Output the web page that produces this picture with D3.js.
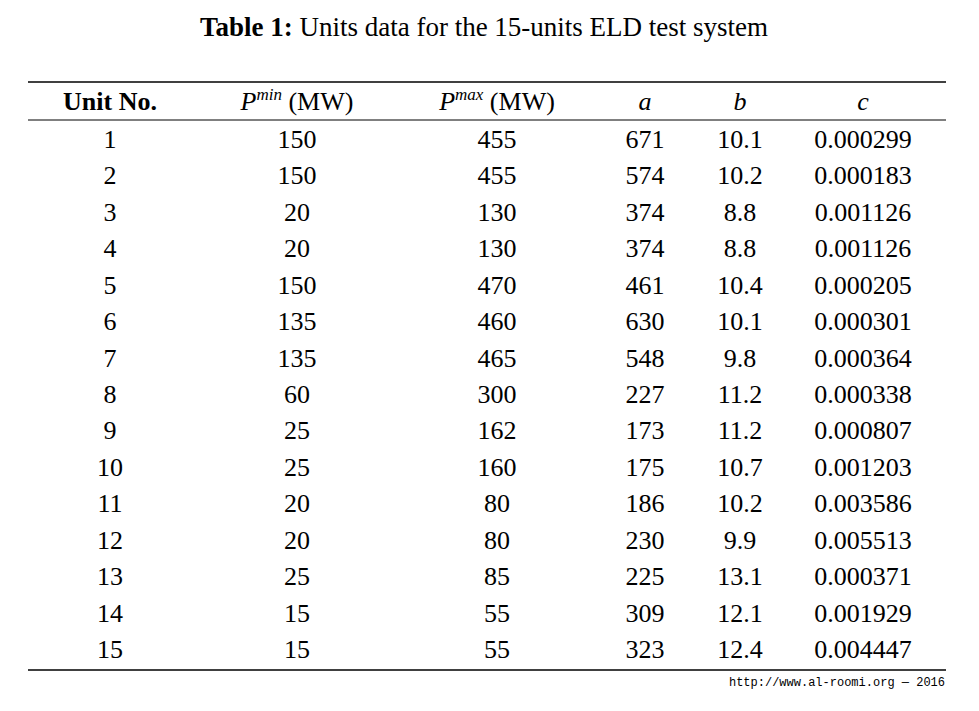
<!DOCTYPE html>
<html><head><meta charset="utf-8">
<script src="https://cdn.jsdelivr.net/npm/d3@7"></script>
<style>body{margin:0;background:#fff}</style></head>
<body><svg id="c" width="979" height="711"></svg>
<script>
const units=[1,2,3,4,5,6,7,8,9,10,11,12,13,14,15];
const pmin=[150,150,20,20,150,135,135,60,25,25,20,20,25,15,15];
const pmax=[455,455,130,130,470,460,465,300,162,160,80,80,85,55,55];
const a=[671,574,374,374,461,630,548,227,173,175,186,230,225,309,323];
const b=["10.1","10.2","8.8","8.8","10.4","10.1","9.8","11.2","11.2","10.7","10.2","9.9","13.1","12.1","12.4"];
const c=["0.000299","0.000183","0.001126","0.001126","0.000205","0.000301","0.000364","0.000338","0.000807","0.001203","0.003586","0.005513","0.000371","0.001929","0.004447"];
const columns=["unit","pmin","pmax","a","b","c"];
const colData=[units,pmin,pmax,a,b,c];

const svg=d3.select("#c");
const F="'Liberation Serif','DejaVu Serif',serif";
const x=d3.scaleOrdinal().domain(columns).range([110,297,497,645,740,863]);
const y=d3.scaleLinear().domain([0,14]).range([148,658]);

svg.append("text").attr("x",484).attr("y",36).attr("text-anchor","middle")
 .attr("font-family",F).attr("font-size",27)
 .html('<tspan font-weight="bold">Table 1:</tspan> Units data for the 15-units ELD test system');

const line=(yy,w)=>svg.append("line").attr("x1",28).attr("x2",946).attr("y1",yy).attr("y2",yy).attr("stroke","#000").attr("stroke-width",w);
line(82,1.5);line(120,1);line(670,1.5);

const hy=110;
const h=svg.append("g").attr("font-family",F).attr("font-size",26).attr("text-anchor","middle");
h.append("text").attr("x",x("unit")).attr("y",hy).attr("font-weight","bold").text("Unit No.");
h.append("text").attr("x",x("pmin")).attr("y",hy).html('<tspan font-style="italic">P</tspan><tspan font-style="italic" font-size="17" dy="-10">min</tspan><tspan dy="10"> (MW)</tspan>');
h.append("text").attr("x",x("pmax")).attr("y",hy).html('<tspan font-style="italic">P</tspan><tspan font-style="italic" font-size="17" dy="-10">max</tspan><tspan dy="10"> (MW)</tspan>');
["a","b","c"].forEach(k=>h.append("text").attr("x",x(k)).attr("y",hy).attr("font-style","italic").text(k));

const body=svg.append("g").attr("font-family",F).attr("font-size",26).attr("text-anchor","middle");
columns.forEach((k,ci)=>{
  body.selectAll(null).data(colData[ci]).join("text")
   .attr("x",x(k)).attr("y",(d,i)=>y(i)).text(d=>d);
});

svg.append("text").attr("x",945).attr("y",686).attr("text-anchor","end")
 .attr("font-family","'Liberation Mono','DejaVu Sans Mono',monospace").attr("font-size",12).text("http://www.al-roomi.org — 2016");
</script></body></html>
